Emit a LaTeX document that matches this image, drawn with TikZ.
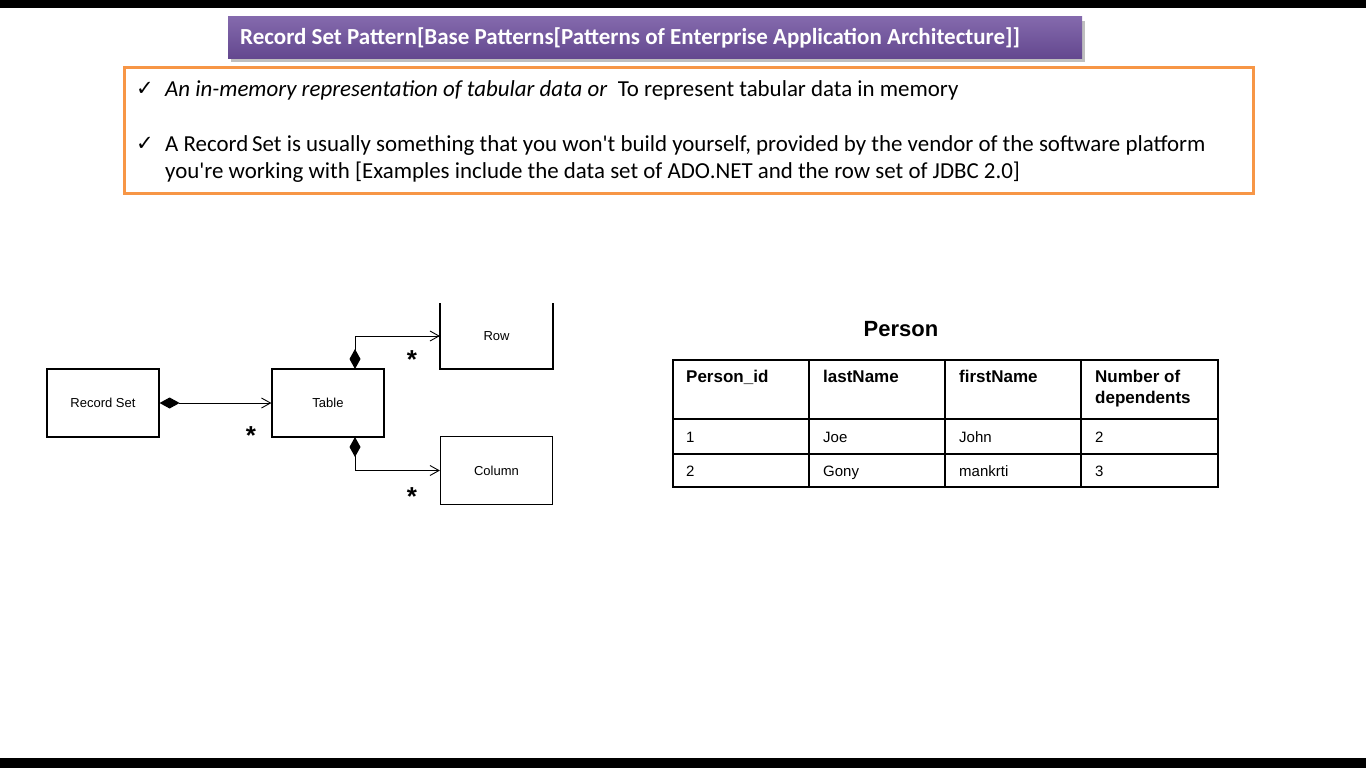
\documentclass[tikz,border=0pt]{standalone}
\usepackage{fontspec}
\setmainfont{Carlito}[Ligatures=TeXOff]
\newfontfamily\arial{Liberation Sans}
\newfontfamily\djvu{DejaVu Sans}
\usetikzlibrary{arrows.meta}
\definecolor{titlep}{HTML}{6E4F9E}
\definecolor{orng}{HTML}{F79646}
\begin{document}
\begin{tikzpicture}[x=1pt,y=-1pt,
  umlbox/.style={draw,line width=1.2pt,minimum width=112pt,minimum height=68pt,inner sep=0pt,font=\arial\fontsize{13}{15}\selectfont},
  conn/.style={line width=1pt,{Diamond[length=20pt,width=11pt]}-{Straight Barb[length=9pt,width=10pt,line width=0.9pt]}},
  star/.style={font=\arial\bfseries\fontsize{26}{26}\selectfont},
  hd/.style={anchor=north west,font=\arial\bfseries\fontsize{17}{21}\selectfont,align=left,inner sep=0pt},
  cl/.style={anchor=base west,font=\arial\fontsize{15}{18}\selectfont,inner sep=0pt},
  chk/.style={font=\djvu\fontsize{21}{21}\selectfont},
  bul/.style={anchor=north west,font=\fontsize{22.9}{27}\selectfont,align=left,inner sep=0pt}]
\useasboundingbox (0,0) rectangle (1366,768);
\fill[white] (0,0) rectangle (1366,768);
\fill[black] (0,0) rectangle (1366,8);
\fill[black] (0,758) rectangle (1366,768);
% title
\fill[black!25] (231,21) rectangle (1085,62);
\shade[top color=titlep!85!white,bottom color=titlep!90!black] (228,17) rectangle (1082,59);
\node[text=white,font=\bfseries\fontsize{23}{26}\selectfont,anchor=west,inner sep=0pt] (title) at (240,38) {Record Set Pattern[Base Patterns[Patterns of Enterprise Application Architecture]]};
% orange box
\draw[orng,line width=3pt] (124,68) rectangle (1253,193);
\node[chk] (c1) at (145,89) {✓};
\node[bul] (b1) at (165,80) {\textit{An in-memory representation of tabular data or}\ \ To represent tabular data in memory};
\node[chk] (c2) at (145,144) {✓};
\node[bul] (b2) at (165,135) {A Record\,Set is usually something that you won't build yourself, provided by the vendor of the software platform\\you're working with [Examples include the data set of ADO.NET and the row set of JDBC 2.0]};
% UML
\node[umlbox] (rs) at (103,403) {Record Set};
\node[umlbox] (tb) at (328,403) {Table};
\node[umlbox,draw=none] (row) at (496.5,336) {Row};
\draw[line width=1.2pt] (440,303) -- (440,369) -- (553,369) -- (553,303);
\node[umlbox] (col) at (496.5,470.5) {Column};
\draw[conn] (rs.east) -- (tb.west);
\coordinate (tt) at (355,369);
\coordinate (tbm) at (355,437);
\draw[conn] (tt) |- (row.west);
\draw[conn] (tbm) |- (col.west);
\node[star] (s1) at (251,436) {*};
\node[star] (s2) at (412,360) {*};
\node[star] (s3) at (412,497) {*};
% table
\node[font=\arial\bfseries\fontsize{22}{24}\selectfont] (pt) at (901,329) {Person};
\draw[line width=2pt] (673,360) rectangle (1218,487);
\foreach \x in {809,945,1081} \draw[line width=1.5pt] (\x,360) -- (\x,487);
\foreach \y in {419,454} \draw[line width=1.5pt] (673,\y) -- (1218,\y);
\node[hd] (h1) at (686,370) {Person\_id};
\node[hd] (h2) at (823,370) {lastName};
\node[hd] (h3) at (959,370) {firstName};
\node[hd] (h4) at (1095,370) {Number of\\dependents};
\node[cl] (r11) at (686,442) {1};
\node[cl] (r12) at (823,442) {Joe};
\node[cl] (r13) at (959,442) {John};
\node[cl] (r14) at (1095,442) {2};
\node[cl] (r21) at (686,476) {2};
\node[cl] (r22) at (823,476) {Gony};
\node[cl] (r23) at (959,476) {mankrti};
\node[cl] (r24) at (1095,476) {3};
\end{tikzpicture}
\end{document}
